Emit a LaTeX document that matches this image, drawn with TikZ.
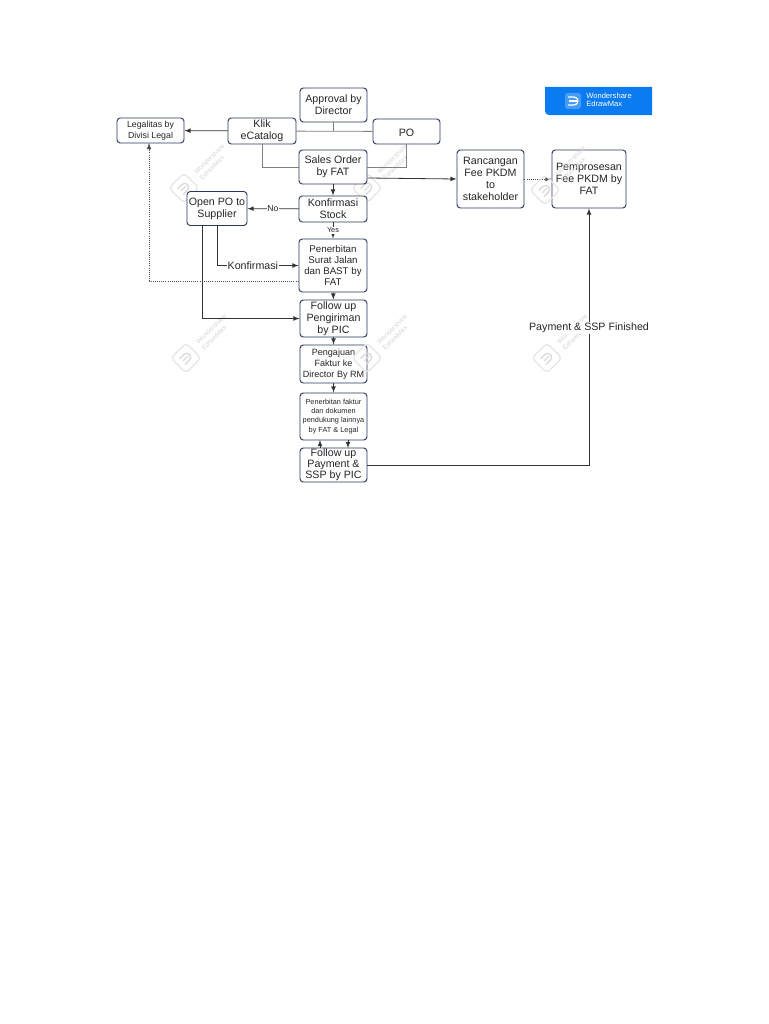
\documentclass[tikz,border=0pt]{standalone}
\usepackage{fontspec}
\setmainfont{Liberation Sans}
\usetikzlibrary{arrows}
\tikzset{>=latex}
\definecolor{boxline}{HTML}{2A3560}
\definecolor{edrawblue}{HTML}{0A7BF0}
\tikzset{
  flowbox/.style={draw=boxline,fill=white,rounded corners=2.5pt,line width=0.7pt,
    align=center,inner sep=0pt,text=black!85,font=\fontsize{8}{9}\selectfont,
    execute at begin node={\rule{0pt}{0.9em}}},
  conn/.style={draw=black!80,line width=0.6pt},
  grayconn/.style={draw=black!50,line width=0.6pt},
  dotconn/.style={draw=black!70,line width=0.6pt,densely dotted},
  tag/.style={fill=white,inner sep=0.5pt,text=black!85},
  mark text/.style={text=black!16,font=\fontsize{5}{6}\selectfont,align=left,rotate=45}
}
% faint product mark, drawn before or after the boxes
\newcommand{\edrawmark}[3]{%
  \draw[black!10,line width=0.9pt,rounded corners=3pt] (#1-15,#2) -- (#1,#2-15) -- (#1+15,#2) -- (#1,#2+15) -- cycle;
  \begin{scope}[shift={(#1,#2)},rotate=45]
    \draw[black!14,line width=1pt] (-5,-4) -- (1,-4) arc (-90:90:4) -- (-5,4);
    \draw[black!14,line width=1pt] (-4,0) -- (3,0);
  \end{scope}
  \node[mark text] (mark#3) at (#1+28,#2-26) {Wondershare\\EdrawMax};
}

\begin{document}
\begin{tikzpicture}[x=0.75pt,y=-0.75pt]
    \path[use as bounding box,fill=white] (0,0) rectangle (768,1024);

    % logo
    \fill[edrawblue] (545,87) -- (652,87) -- (652,115) [rounded corners=3pt] -- (545,115) [sharp corners] -- cycle;
    \node[fill=white!25!edrawblue,rounded corners=2pt,minimum width=12pt,minimum height=12pt,inner sep=0pt] (logoicon) at (573,101) {};
    \draw[white,line width=0.9pt] (568,97) -- (574,97) arc (-90:90:4) -- (568,105);
    \draw[white,line width=0.9pt] (569,101) -- (577,101);
    \node[text=white,font=\fontsize{5.7}{6.4}\selectfont,align=left,inner sep=0pt,anchor=west] (logotext) at (586,100) {Wondershare\\EdrawMax};

    % marks under the boxes
    \edrawmark{184}{188}{a}
    \edrawmark{367}{188}{b}
    \edrawmark{186}{358}{d}
    \edrawmark{547}{358}{f}

    % boxes
    \node[flowbox,minimum width=50.25pt,minimum height=25.5pt] (approval) at (333.5,105) {Approval by\\Director};
    \node[flowbox,minimum width=51pt,minimum height=19.5pt] (klik) at (262,131) {Klik\\eCatalog};
    \node[flowbox,minimum width=50.25pt,minimum height=18.75pt] (po) at (406.5,131.5) {PO};
    \node[flowbox,minimum width=50.25pt,minimum height=18.75pt,font=\fontsize{6.6}{8}\selectfont] (legal) at (150.5,130.5) {Legalitas by\\Divisi Legal};
    \node[flowbox,minimum width=51pt,minimum height=25.5pt] (sales) at (333,167) {Sales Order\\by FAT};
    \node[flowbox,minimum width=51pt,minimum height=19.5pt] (stock) at (333,209) {Konfirmasi\\Stock};
    \node[flowbox,minimum width=45pt,minimum height=25.5pt] (openpo) at (217,208.5) {Open PO to\\Supplier};
    \node[flowbox,minimum width=51pt,minimum height=39.75pt,font=\fontsize{7.3}{8.1}\selectfont] (surat) at (333,265.5) {Penerbitan\\Surat Jalan\\dan BAST by\\FAT};
    \node[flowbox,minimum width=50.25pt,minimum height=27.75pt] (kirim) at (333.5,318.5) {Follow up\\Pengiriman\\by PIC};
    \node[flowbox,minimum width=50.25pt,minimum height=28.5pt,font=\fontsize{6.8}{8.4}\selectfont] (faktur) at (333.5,364) {Pengajuan\\Faktur ke\\Director By RM};
    \node[flowbox,minimum width=50.25pt,minimum height=35.25pt,font=\fontsize{5.5}{6.8}\selectfont] (dokumen) at (333.5,416.5) {Penerbitan faktur\\dan dokumen\\pendukung lainnya\\by FAT \& Legal};
    \node[flowbox,minimum width=50.25pt,minimum height=25.5pt,font=\fontsize{8}{8.2}\selectfont] (payment) at (333.5,465) {Follow up\\Payment \&\\SSP by PIC};
    \node[flowbox,minimum width=50.25pt,minimum height=43.5pt] (rancang) at (490.5,179) {Rancangan\\Fee PKDM\\to\\stakeholder};
    \node[flowbox,minimum width=55.5pt,minimum height=43.5pt] (proses) at (589,179) {Pemprosesan\\Fee PKDM by\\FAT};

    % connectors
    \coordinate (legaldot) at (149,143);
    \draw[conn,->] (klik) -- (legal);
    \draw[grayconn] (klik) -- (po);
    \draw[grayconn] (approval) -- (333.5,131);
    \draw[grayconn] (klik.south) |- (sales.west);
    \draw[grayconn] (po.south) |- (sales.east);
    \draw[conn,->] (sales) -- (stock);
    \draw[conn,->] (sales.east |- 0,178) -- (rancang.west |- 0,179);
    \draw[conn,->] (stock) -- node[tag,font=\fontsize{6.5}{8}\selectfont] (nolabel) {No} (openpo);
    \draw[conn,->] (stock) -- node[tag,font=\fontsize{5.5}{7}\selectfont] (yeslabel) {Yes} (surat);
    \draw[conn,->] (217,226) |- node[tag,pos=0.72,font=\fontsize{8}{9}\selectfont] (konfirm) {Konfirmasi} (surat.west);
    \draw[conn,->] (202,226) |- (kirim.west);
    \draw[dotconn,->] (surat.west |- 0,281) -| (legaldot);
    \draw[conn,->] (surat) -- (kirim);
    \draw[conn,->] (kirim) -- (faktur);
    \draw[conn,->] (faktur) -- (dokumen);
    \draw[conn,->] (320,448) -- (320,440);
    \draw[conn,->] (348,440) -- (348,448);
    \draw[dotconn,->] (rancang) -- (proses);
    \draw[conn,->] (payment.east) -| node[tag,pos=0.767,font=\fontsize{8}{9}\selectfont] (finish) {Payment \& SSP Finished} (proses.south);

    % marks over the boxes
    \edrawmark{545}{190}{c}
    \edrawmark{367}{358}{e}
\end{tikzpicture}
\end{document}
